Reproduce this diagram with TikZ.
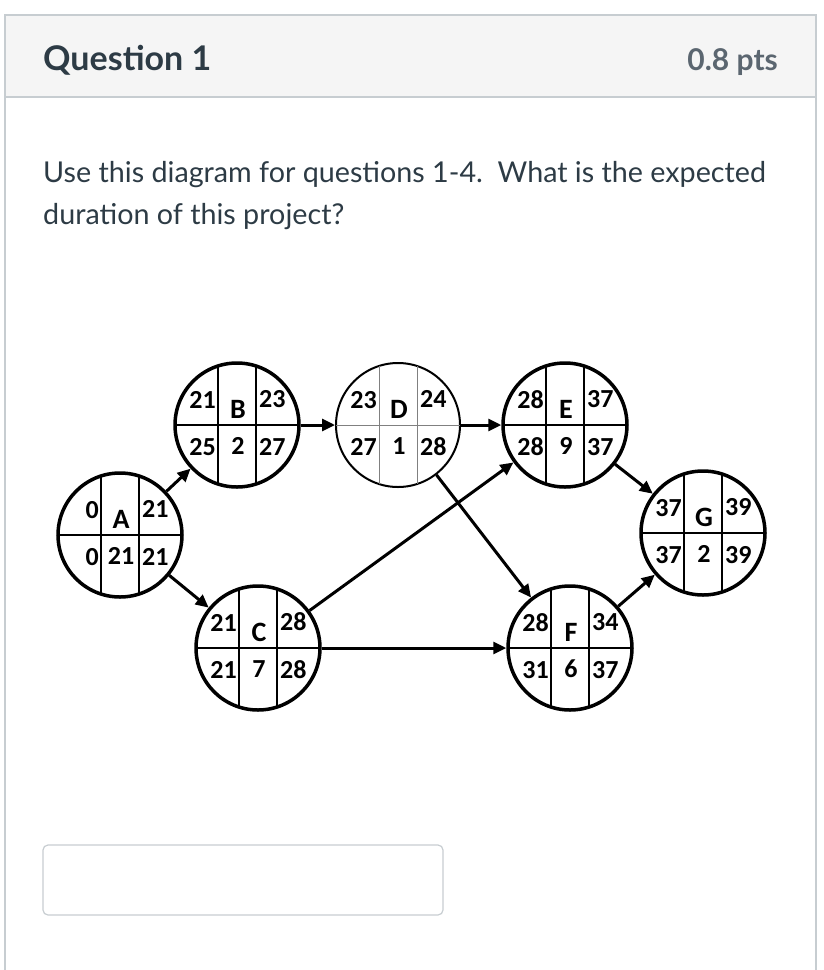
\documentclass[tikz,border=0pt]{standalone}
\usepackage{fontspec}
\setmainfont{Lato}
\newfontfamily\cellfont{Carlito}
\usetikzlibrary{arrows.meta}
\usetikzlibrary{positioning}

\definecolor{framegray}{HTML}{C7CDD1}
\definecolor{headfill}{HTML}{F5F5F5}
\definecolor{inkdark}{HTML}{2D3B45}
\definecolor{ptsgray}{HTML}{5B6670}

% #1 name, #2 centre, #3 letter, #4 ES, #5 EF, #6 LS, #7 duration, #8 LF, #9 "" or "light"
\newcommand\pertnode[9]{%
  \node[#9event] (#1) at (#2) {};
  \begin{scope}[shift={(#2)}]
    \draw[#9divider] (-62,0) -- (62,0);
    \draw[#9divider] (-19,-59) -- (-19,59);
    \draw[#9divider] (19,-59) -- (19,59);
    \node[num,anchor=east] (#1-es) at (-21,-25) {#4};
    \node[letter] (#1-id) at (1,-16) {#3};
    \node[num,anchor=west] (#1-ef) at (22,-26) {#5};
    \node[num,anchor=east] (#1-ls) at (-21,22) {#6};
    \node[num] (#1-du) at (1,21) {#7};
    \node[num,anchor=west] (#1-lf) at (22,22) {#8};
  \end{scope}}

\begin{document}
\begin{tikzpicture}
		[x=1pt,y=-1pt,
		event/.style={circle,draw,line width=3.5pt,minimum size=124pt,inner sep=0pt},
		lightevent/.style={circle,draw,line width=2pt,minimum size=124pt,inner sep=0pt},
		divider/.style={line width=2pt},
		lightdivider/.style={line width=0.8pt,gray},
		num/.style={inner sep=0pt,font=\cellfont\bfseries\fontsize{26}{26}\selectfont},
		letter/.style={inner sep=0pt,font=\cellfont\bfseries\fontsize{28}{28}\selectfont},
		link/.style={line width=3pt,-{Triangle[length=13pt,width=12pt]}}]
		\useasboundingbox (0,0) rectangle (823,970);
		
		% page frame and header
		\fill[headfill] (5,15) rectangle (816,97);
		\draw[framegray,line width=1.2pt] (5,970) -- (5,15) -- (816,15) -- (816,970);
		\draw[framegray,line width=1.2pt] (5,97) -- (816,97);
		\node[anchor=base west,inner sep=0pt,text=inkdark,font=\bfseries\fontsize{34}{34}\selectfont] (title) at (43,70) {Question 1};
		\node[anchor=base east,inner sep=0pt,text=ptsgray,font=\bfseries\fontsize{30}{30}\selectfont] (pts) at (778,70) {0.8 pts};
		\node[anchor=base west,inner sep=0pt,text=inkdark,font=\fontsize{28.7}{28.7}\selectfont] (line1) at (43,182) {Use this diagram for questions 1-4.\ \ What is the expected};
		\node[anchor=base west,inner sep=0pt,text=inkdark,font=\fontsize{28.7}{28.7}\selectfont] (line2) at (43,224) {duration of this project?};
		
		% network
		\pertnode{A}{120,535}{A}{0}{21}{0}{21}{21}{}
		\pertnode{B}{237,425}{B}{21}{23}{25}{2}{27}{}
		\pertnode{D}{398,425}{D}{23}{24}{27}{1}{28}{light}
		\pertnode{E}{565,425}{E}{28}{37}{28}{9}{37}{}
		\pertnode{C}{258,648}{C}{21}{28}{21}{7}{28}{}
		\pertnode{F}{570,648}{F}{28}{34}{31}{6}{37}{}
		\pertnode{G}{703,533}{G}{37}{39}{37}{2}{39}{}
		
		\foreach \from/\to in 
		{A/B, A/C, B/D, D/E, D/F, C/E, C/F, E/G, F/G}
		\draw[link] (\from) -- (\to);
		
		% answer box
		\draw[framegray,line width=1.2pt,rounded corners=5pt] (43,845) rectangle (443,915);
		\end{tikzpicture}
\end{document}
